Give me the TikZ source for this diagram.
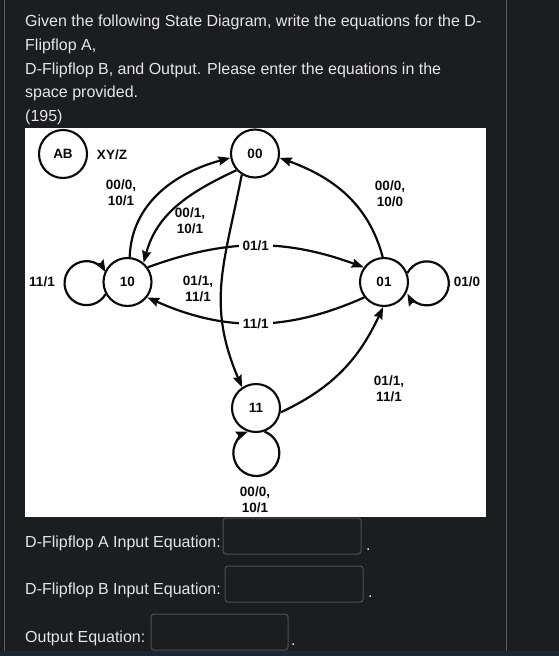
\documentclass[tikz,border=0pt]{standalone}
\usepackage{fontspec}
\setmainfont{Liberation Sans}
\usetikzlibrary{arrows.meta}
\definecolor{bg}{HTML}{1C1D1F}
\definecolor{txt}{HTML}{E6E6E6}
\definecolor{rule}{HTML}{5E5E5E}
\definecolor{boxline}{HTML}{4E4F52}
\definecolor{strip}{HTML}{1D2633}
\definecolor{ink}{HTML}{0A0A0A}
\begin{document}
\begin{tikzpicture}[x=1pt,y=-1pt,
  page/.style={anchor=base west,inner sep=0pt,text=txt,font=\fontsize{16}{19}\selectfont},
  state/.style={circle,draw=ink,line width=2.1pt,minimum size=48pt,inner sep=0pt,text=ink,font=\bfseries\fontsize{13.5}{15}\selectfont},
  lbl/.style={inner sep=0pt,align=center,text=ink,font=\bfseries\fontsize{13.5}{16}\selectfont},
  online/.style={lbl,fill=white,inner xsep=4pt,inner ysep=2pt},
  trans/.style={draw=ink,line width=2.2pt,-{Stealth[length=12pt,width=9pt,inset=1.5pt]}},
  inbox/.style={draw=boxline,line width=1pt,rounded corners=3pt}]
\useasboundingbox (0,0) rectangle (559,656);
\fill[bg] (0,0) rectangle (559,656);
\fill[strip] (0,651) rectangle (559,656);
\draw[rule,line width=1pt] (4,0) -- (4,651);
\draw[rule,line width=1pt] (506,0) -- (506,651);

% question text
\node[page] (t1) at (25,26) {Given the following State Diagram, write the equations for the D-};
\node[page] (t2) at (25,50) {Flipflop A,};
\node[page] (t3) at (25,74) {D-Flipflop B, and Output. Please enter the equations in the};
\node[page] (t4) at (25,97) {space provided.};
\node[page] (t5) at (25,121) {(195)};

% diagram panel
\fill[white] (25,128) rectangle (486,517);

\node[state] (ab) at (63,154) {AB};
\node[lbl] (key) at (112,155) {XY/Z};

\node[state] (s00) at (255,153.5) {00};
\node[state] (s10) at (127.5,282) {10};
\node[state] (s01) at (384,282) {01};
\node[state] (s11) at (256,408) {11};

% transitions
\draw[trans] (s10.85) to[out=88,in=195] (s00.190);
\draw[trans] (s00.222) to[out=205,in=75] (s10.50);
\draw[trans] (s00.238) to[out=259,in=113,looseness=1.1] (s11.124);
\draw[trans] (s10.36) to[out=20,in=160] node[online,pos=0.5] (l0101) {01/1} (s01.144);
\draw[trans] (s01.218) to[out=204,in=336] node[online,pos=0.5] (l1111) {11/1} (s10.322);
\draw[trans] (s01.93) to[out=105,in=-20] (s00.-10);
\draw[trans] (s11.-10) to[out=25,in=-115] (s01.-92);

% self loops
\draw[trans] (s10.209) arc[start angle=-30,end angle=-330,radius=22pt];
\draw[trans] (s01.21) arc[start angle=152,end angle=-152,radius=22pt];
\draw[trans] (s11.-70) arc[start angle=69,end angle=-249,radius=23pt];

% labels
\node[lbl] (la) at (121,193) {00/0,\\10/1};
\node[lbl] (lb) at (190,221) {00/1,\\10/1};
\node[lbl] (lc) at (198,289) {01/1,\\11/1};
\node[lbl] (ld) at (390,193.5) {00/0,\\10/0};
\node[lbl] (le) at (467,282) {01/0};
\node[lbl] (lf) at (42,282) {11/1};
\node[lbl] (lg) at (389,389) {01/1,\\11/1};
\node[lbl] (lh) at (255,499.5) {00/0,\\10/1};

% answer fields
\node[page] (q1) at (25,547) {D-Flipflop A Input Equation:};
\draw[inbox] (223,518) rectangle (361,554);
\node[page] (p1) at (366,550) {.};
\node[page] (q2) at (25,594) {D-Flipflop B Input Equation:};
\draw[inbox] (225,566) rectangle (363,602);
\node[page] (p2) at (368,597) {.};
\node[page] (q3) at (25,642) {Output Equation:};
\draw[inbox] (151,614) rectangle (288,650);
\node[page] (p3) at (291,645) {.};
\end{tikzpicture}
\end{document}
